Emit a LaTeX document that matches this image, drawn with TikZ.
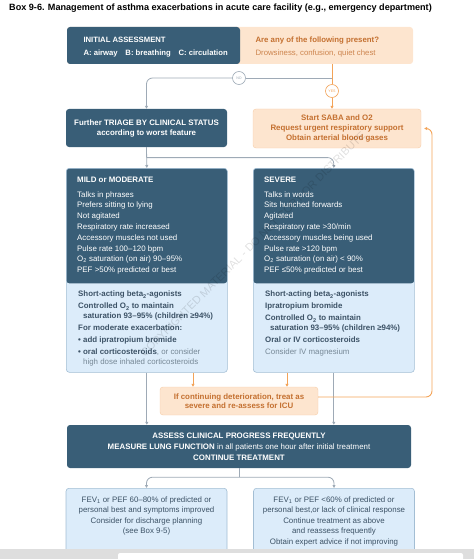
\documentclass[tikz,border=0pt]{standalone}
\usepackage{fontspec}
\setmainfont{Liberation Sans}
\usetikzlibrary{arrows.meta,calc}

\definecolor{navy}{RGB}{57,94,119}
\definecolor{peach}{RGB}{253,229,207}
\definecolor{peachline}{RGB}{246,204,168}
\definecolor{rust}{RGB}{196,112,48}
\definecolor{amber}{RGB}{243,163,88}
\definecolor{ice}{RGB}{220,236,250}
\definecolor{iceline}{RGB}{163,190,212}
\definecolor{slate}{RGB}{60,82,102}
\definecolor{mist}{RGB}{118,136,150}
\definecolor{wirecol}{RGB}{158,170,182}

\newcommand{\Otwo}{O\textsubscript{2}}
\newcommand{\btwo}{beta\textsubscript{2}}
\tikzset{
            navybox/.style={fill=navy, text=white, rounded corners=3pt, align=center,
                font=\bfseries\fontsize{7.9}{10}\selectfont},
            peachbox/.style={fill=peach, draw=peachline, text=rust, rounded corners=3pt, align=center,
                font=\bfseries\fontsize{7.9}{9.8}\selectfont},
            icebox/.style={fill=ice, draw=iceline, line width=0.6pt, rounded corners=3pt},
            splitbox/.style={icebox, anchor=north west, minimum width=161pt, minimum height=204pt,
                path picture={\fill[navy] (path picture bounding box.north west)
                    rectangle ([yshift=-115pt]path picture bounding box.north east);}},
            signs/.style={anchor=north west, inner sep=0pt, align=left, text=white,
                font=\fontsize{7.9}{10.8}\selectfont},
            rx/.style={anchor=north west, inner sep=0pt, align=left, text=slate,
                font=\bfseries\fontsize{7.9}{9.7}\selectfont},
            outcome/.style={anchor=north, align=center, text=slate, font=\fontsize{7.9}{9.8}\selectfont},
            tag/.style={circle, fill=white, line width=0.6pt, minimum size=13pt, inner sep=0pt,
                font=\fontsize{3.6}{4}\selectfont}
        }

\begin{document}
\begin{tikzpicture}[
                    x=1pt, y=-1pt,
                    link/.style={draw=wirecol, line width=0.8pt, -{Triangle[length=3pt,width=3pt]}},
                    hotlink/.style={draw=amber, line width=0.9pt, -{Triangle[length=3pt,width=3pt]}}
                    ]
                \useasboundingbox (0,0) rectangle (474,559);
                \node[anchor=base west, inner sep=0pt, font=\bfseries\fontsize{9.1}{10}\selectfont] (title) at (9,11)
                    {Box 9-6. Management of asthma exacerbations in acute care facility (e.g., emergency department)};

                % initial assessment
                \node[fill=peach, rounded corners=3pt, minimum width=346pt, minimum height=37pt,
                    path picture={\fill[navy] (path picture bounding box.north west)
                        rectangle ([xshift=173pt]path picture bounding box.south west);}] (init) at (240,45.5) {};
                \node[anchor=west, align=left, text=white, font=\bfseries\fontsize{7.7}{13}\selectfont] (abc) at (80,47)
                    {INITIAL ASSESSMENT\\A: airway\quad B: breathing\quad C: circulation};
                \node[anchor=west, align=left, text=rust, font=\fontsize{7.8}{13}\selectfont] (present) at (252,47)
                    {\textbf{Are any of the following present?}\\{\color{rust!85}Drowsiness, confusion, quiet chest}};
                \node[tag, draw=wirecol, text=wirecol] (no) at (239,78) {NO};
                \node[tag, draw=amber, text=amber] (yes) at (332,91) {YES};

                \node[navybox, minimum width=161pt, minimum height=38pt] (triage) at (146.5,128)
                    {Further TRIAGE BY CLINICAL STATUS\\according to worst feature};
                \node[peachbox, minimum width=168pt, minimum height=39pt] (saba) at (337,128.5)
                    {Start SABA and O2\\Request urgent respiratory support\\Obtain arterial blood gases};

                % mild or moderate
                \node[splitbox] (mild) at (66,168) {};
                \node[signs] (mildsigns) at (77,177) {\textbf{MILD or MODERATE}\\[3.5pt]
                    Talks in phrases\\Prefers sitting to lying\\Not agitated\\Respiratory rate increased\\
                    Accessory muscles not used\\Pulse rate 100--120 bpm\\\Otwo{} saturation (on air) 90--95\%\\
                    PEF >50\% predicted or best};
                \node[rx] (mildrx) at (78,291) {Short-acting \btwo-agonists\\[2.3pt]
                    Controlled \Otwo{} to maintain\\\hspace*{5pt}saturation 93--95\% (children ≥94\%)\\[2.3pt]
                    For moderate exacerbation:\\[2.3pt]
                    • add ipratropium bromide\\[2.3pt]
                    • oral corticosteroids{\mdseries\color{mist}, or consider}\\
                    \hspace*{5pt}{\mdseries\color{mist}high dose inhaled corticosteroids}};

                % severe
                \node[splitbox] (severe) at (253,168) {};
                \node[signs] (sevsigns) at (264,177) {\textbf{SEVERE}\\[3.5pt]
                    Talks in words\\Sits hunched forwards\\Agitated\\Respiratory rate >30/min\\
                    Accessory muscles being used\\Pulse rate >120 bpm\\\Otwo{} saturation (on air) < 90\%\\
                    PEF ≤50\% predicted or best};
                \node[rx] (sevrx) at (265,291) {Short-acting \btwo-agonists\\[2.3pt]
                    Ipratropium bromide\\[2.3pt]
                    Controlled \Otwo{} to maintain\\\hspace*{5pt}saturation 93--95\% (children ≥94\%)\\[2.3pt]
                    Oral or IV corticosteroids\\[2.3pt]
                    {\mdseries\color{mist}Consider IV magnesium}};

                \node[peachbox, minimum width=158pt, minimum height=28pt,
                    font=\bfseries\fontsize{7.9}{9}\selectfont] (det) at (239,401)
                    {If continuing deterioration, treat as\\severe and re-assess for ICU};

                \node[navybox, minimum width=344pt, minimum height=43pt,
                    font=\fontsize{7.9}{11}\selectfont] (assess) at (239,446.5)
                    {\textbf{ASSESS CLINICAL PROGRESS FREQUENTLY}\\
                    \textbf{MEASURE LUNG FUNCTION} in all patients one hour after initial treatment\\
                    \textbf{CONTINUE TREATMENT}};

                % outcomes
                \node[icebox, anchor=north, minimum width=161pt, minimum height=80pt] (good) at (146.5,488) {};
                \node[outcome] (goodtx) at (146.5,493)
                    {FEV\textsubscript{1} or PEF 60--80\% of predicted or\\personal best and symptoms improved\\[1.5pt]
                    Consider for discharge planning\\(see Box 9-5)};
                \node[icebox, anchor=north, minimum width=161pt, minimum height=80pt] (poor) at (334,488) {};
                \node[outcome] (poortx) at (334,493)
                    {FEV\textsubscript{1} or PEF <60\% of predicted or\\personal best,or lack of clinical response\\[1.5pt]
                    Continue treatment as above\\and reassess frequently\\[1.5pt]
                    Obtain expert advice if not improving};

                % connectors
                \draw[draw=amber, line width=0.9pt] (init.south -| yes) -- (yes);
                \draw[hotlink] (yes) -- (yes |- saba.north);
                \draw[draw=wirecol, line width=0.8pt] (yes |- no) -- (no);
                \draw[link, rounded corners=6pt] (no) -| (triage.north);
                \draw[link] (triage.south) -- (mild.north);
                \draw[link, rounded corners=6pt] ($(triage.south)!0.5!(mild.north)$) -| (severe.north);
                \coordinate (d1) at ([xshift=-46pt]det.north);
                \coordinate (d2) at ([xshift=48pt]det.north);
                \draw[hotlink] (d1 |- mild.south) -- (d1);
                \draw[hotlink] (d2 |- severe.south) -- (d2);
                \draw[link] (mild.south) -- (mild.south |- assess.north);
                \draw[link] (severe.south) -- (severe.south |- assess.north);
                \coordinate (loop) at (432,0);
                \draw[hotlink, rounded corners=6pt] ([yshift=4pt]det.east) -| (loop |- saba.east)
                    -- ([xshift=3pt]saba.east);
                \coordinate (fork) at ([yshift=-9pt]assess.south);
                \draw[draw=wirecol, line width=0.8pt] (assess.south) -- (fork);
                \draw[link, rounded corners=6pt] (fork) -| (good.north);
                \draw[link, rounded corners=6pt] (fork) -| (poor.north);

                \node[rotate=45, text=black, opacity=0.12, font=\fontsize{11}{11}\selectfont] (mark) at (253,244)
                    {COPYRIGHTED MATERIAL - DO NOT COPY OR DISTRIBUTE};

                % window edge
                \fill[black!13] (0,549) rectangle (474,559);
                \fill[white, rounded corners=2pt] (118,553) rectangle (463,562);
            \end{tikzpicture}
\end{document}
